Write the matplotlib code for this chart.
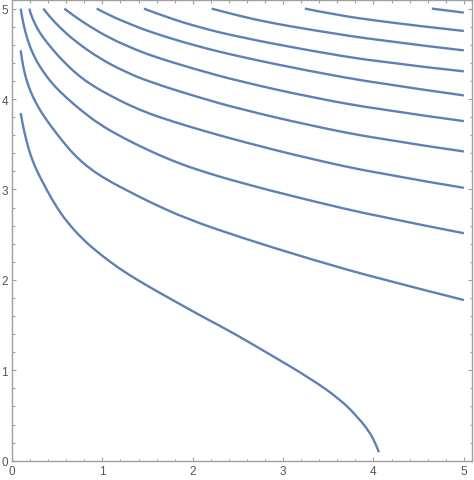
import matplotlib
matplotlib.use('Agg')
import matplotlib.pyplot as plt
import numpy as np
from matplotlib.path import Path
from matplotlib.patches import PathPatch
from matplotlib.ticker import MultipleLocator

# contour lines, lowest first (x list, y list)
c1_x = [0.096, 0.115, 0.140, 0.180, 0.230, 0.288, 0.384, 0.490, 0.605, 0.780, 0.973, 1.180, 1.394, 1.637,
        1.880, 2.113, 2.445, 2.854, 3.296, 3.628, 3.813, 3.960, 4.034, 4.060]
c1_y = [3.845, 3.740, 3.620, 3.460, 3.310, 3.180, 2.995, 2.810, 2.645, 2.450, 2.285, 2.130, 1.995, 1.855,
        1.720, 1.590, 1.415, 1.175, 0.914, 0.681, 0.496, 0.316, 0.164, 0.094]

c2_x = [0.096, 0.110, 0.130, 0.160, 0.200, 0.260, 0.330, 0.420, 0.564, 0.700, 0.863, 1.060, 1.305, 1.527,
        1.936, 2.522, 3.296, 4.071, 5.0]
c2_y = [4.538, 4.440, 4.330, 4.210, 4.095, 3.965, 3.845, 3.715, 3.527, 3.370, 3.228, 3.100, 2.973, 2.859,
        2.674, 2.472, 2.231, 2.010, 1.777]

c3_x = [0.096, 0.110, 0.130, 0.160, 0.200, 0.250, 0.310, 0.390, 0.476, 0.608, 0.780, 0.973, 1.220, 1.527,
        1.770, 2.024, 2.522, 3.296, 4.071, 5.0]
c3_y = [5.000, 4.916, 4.816, 4.696, 4.576, 4.461, 4.356, 4.240, 4.137, 4.008, 3.862, 3.717, 3.575, 3.425,
        3.320, 3.225, 3.075, 2.877, 2.697, 2.516]

c4_x = [0.191, 0.205, 0.232, 0.270, 0.310, 0.360, 0.420, 0.500, 0.586, 0.690, 0.808, 0.940, 1.084, 1.300,
        1.527, 1.800, 2.080, 2.522, 3.296, 4.071, 5.0]
c4_y = [5.000, 4.950, 4.880, 4.800, 4.730, 4.660, 4.585, 4.490, 4.400, 4.300, 4.205, 4.120, 4.040, 3.930,
        3.835, 3.745, 3.660, 3.535, 3.339, 3.173, 3.018]

c5_x = [0.346, 0.420, 0.531, 0.697, 0.973, 1.250, 1.527, 2.080, 2.522, 3.296, 4.071, 5.0]
c5_y = [5.000, 4.906, 4.790, 4.640, 4.446, 4.302, 4.188, 4.014, 3.890, 3.708, 3.555, 3.420]

c6_x = [0.579, 0.697, 0.863, 1.084, 1.305, 1.527, 2.024, 2.522, 3.296, 4.071, 5.0]
c6_y = [5.000, 4.911, 4.801, 4.673, 4.574, 4.483, 4.330, 4.195, 4.022, 3.882, 3.756]

c7_x = [0.937, 1.084, 1.305, 1.527, 2.024, 2.522, 3.296, 4.071, 5.0]
c7_y = [5.000, 4.923, 4.830, 4.742, 4.590, 4.468, 4.308, 4.170, 4.040]

c8_x = [1.460, 1.692, 2.080, 2.522, 3.296, 4.071, 5.0]
c8_y = [5.000, 4.911, 4.790, 4.684, 4.535, 4.408, 4.306]

c9_x = [2.209, 2.522, 2.854, 3.296, 4.071, 5.0]
c9_y = [5.000, 4.917, 4.845, 4.767, 4.646, 4.538]

c10_x = [3.241, 3.628, 4.071, 4.513, 5.0]
c10_y = [5.000, 4.923, 4.862, 4.807, 4.753]

c11_x = [4.646, 5.0]
c11_y = [5.000, 4.956]

contours = [(c1_x, c1_y), (c2_x, c2_y), (c3_x, c3_y), (c4_x, c4_y), (c5_x, c5_y),
            (c6_x, c6_y), (c7_x, c7_y), (c8_x, c8_y), (c9_x, c9_y), (c10_x, c10_y),
            (c11_x, c11_y)]

tick_vals = [0, 1, 2, 3, 4, 5]


def smooth_path(xs, ys):
    # read points used as quadratic bezier controls so the line has no corners
    pts = np.column_stack([xs, ys])
    if len(pts) < 3:
        return Path(pts, [Path.MOVETO, Path.LINETO])
    verts = [pts[0]]
    codes = [Path.MOVETO]
    for i in range(1, len(pts) - 1):
        end = pts[i + 1] if i == len(pts) - 2 else (pts[i] + pts[i + 1]) / 2
        verts += [pts[i], end]
        codes += [Path.CURVE3, Path.CURVE3]
    return Path(verts, codes)


plt.rcParams['font.family'] = ['Liberation Sans', 'DejaVu Sans']

fig = plt.figure(figsize=(4.74, 4.81), dpi=100)
ax = fig.add_axes([0.0253, 0.0401, 0.9705, 0.9568])

line_col = '#5e81b5'
for xs, ys in contours:
    ax.add_patch(PathPatch(smooth_path(xs, ys), facecolor='none', edgecolor=line_col,
                           lw=1.7, capstyle='butt', joinstyle='round'))

ax.set_xlim(0, 5.09)
ax.set_ylim(0, 5.09)

#frame + ticks, mathematica style
frame_col = '#a0a0a0'
for s in ax.spines.values():
    s.set_color(frame_col)
    s.set_linewidth(1.0)

ax.set_xticks(tick_vals)
ax.set_yticks(tick_vals)
ax.xaxis.set_minor_locator(MultipleLocator(0.2))
ax.yaxis.set_minor_locator(MultipleLocator(0.2))
ax.tick_params(which='both', direction='in', top=True, right=True, color=frame_col, width=0.8)
ax.tick_params(which='major', length=3.2, labelsize=8.5, labelcolor='#555555', pad=3)
ax.tick_params(which='minor', length=1.8)

fig.savefig('out.png', dpi=100)
